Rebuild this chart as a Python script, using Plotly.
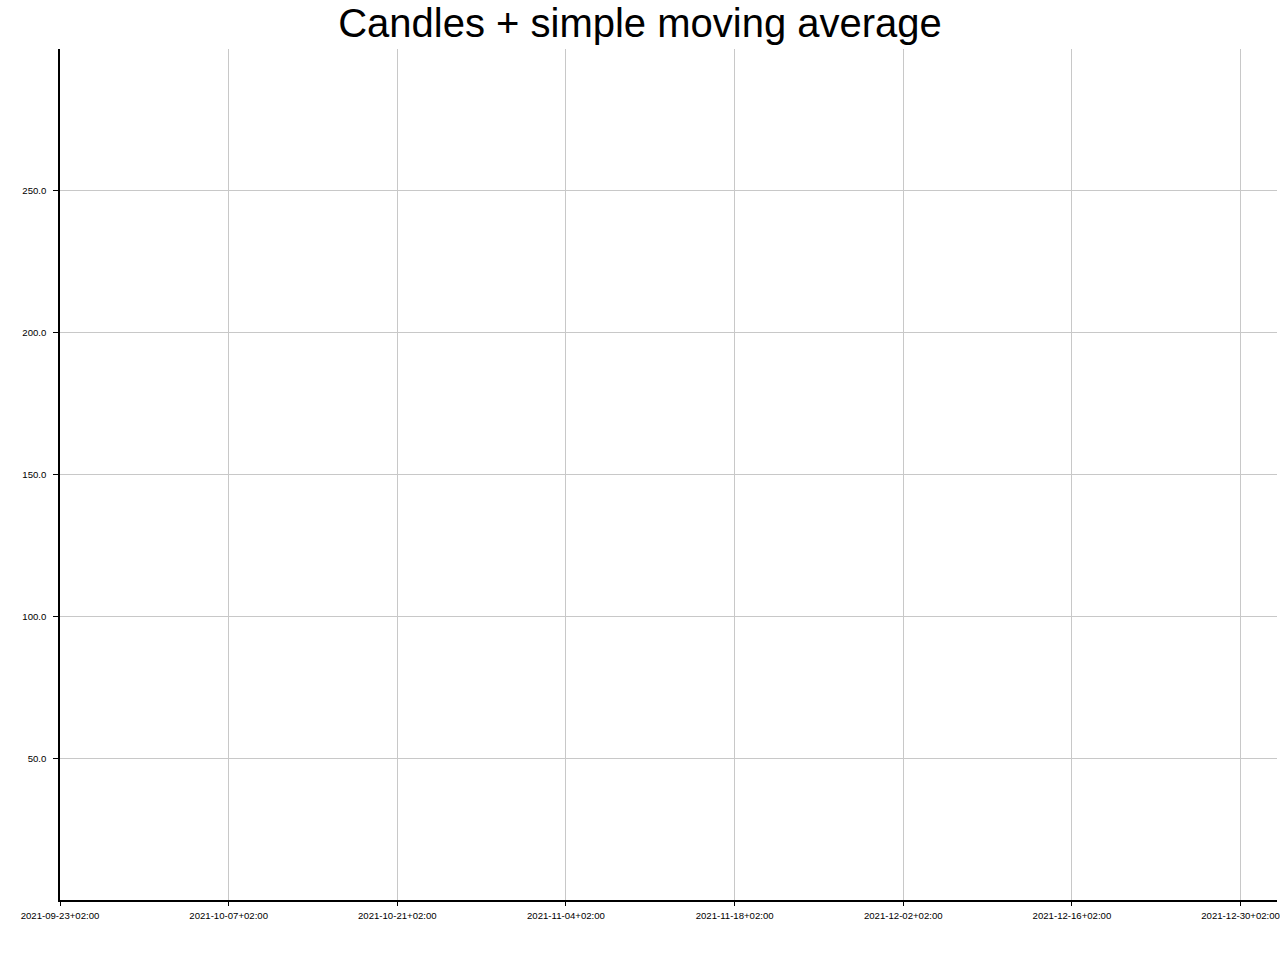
import plotly.graph_objects as go

# Datos (el gráfico original no muestra velas ni media visibles)
dates = []
open_vals = []
high_vals = []
low_vals = []
close_vals = []
sma_vals = []

# Marcas de los ejes
x_ticks = ["2021-09-23", "2021-10-07", "2021-10-21", "2021-11-04",
           "2021-11-18", "2021-12-02", "2021-12-16", "2021-12-30"]
y_ticks = [50, 100, 150, 200, 250]
y_labels = ["50.0", "100.0", "150.0", "200.0", "250.0"]
y_top = 300

fig = go.Figure()
fig.add_trace(go.Candlestick(x=dates, open=open_vals, high=high_vals,
                             low=low_vals, close=close_vals, name="Candles"))
fig.add_trace(go.Scatter(x=dates, y=sma_vals, mode="lines", name="SMA",
                         line=dict(color="blue", width=1)))

fig.update_layout(
    width=1280, height=956,
    title=dict(text="Candles + simple moving average", x=0.5, xanchor="center",
               xref="container", y=1 - 23 / 956, yanchor="middle",
               font=dict(family="Liberation Sans, Arial", size=40, color="black")),
    font=dict(family="Liberation Sans, Arial", size=9.6, color="black"),
    plot_bgcolor="white", paper_bgcolor="white",
    margin=dict(l=60, r=0, t=49, b=56),
    showlegend=False,
    xaxis=dict(
        type="date",
        range=["2021-09-23", "2022-01-02 00:30"],
        tickvals=x_ticks, tickformat="%Y-%m-%d+02:00",
        ticklabeloverflow="allow",
        showgrid=True, gridcolor="#c8c8c8", gridwidth=1,
        showline=True, linecolor="black", linewidth=1.5,
        ticks="outside", ticklen=4, tickcolor="black",
        ticklabelstandoff=2,
        rangeslider=dict(visible=False), zeroline=False,
    ),
    yaxis=dict(
        range=[0, y_top],
        tickvals=y_ticks, ticktext=y_labels,
        showgrid=True, gridcolor="#c8c8c8", gridwidth=1,
        minor=dict(tickvals=[y_top], showgrid=True, gridcolor="#c8c8c8",
                   gridwidth=1, ticks=""),
        showline=True, linecolor="black", linewidth=1.5,
        ticks="outside", ticklen=5, tickcolor="black",
        ticklabelstandoff=5,
        zeroline=False,
    ),
)

# quitar el margen por defecto del body para que el gráfico llene la ventana
fig.write_html("out.html", config={"displayModeBar": False},
               post_script="document.body.style.margin = '0';")
